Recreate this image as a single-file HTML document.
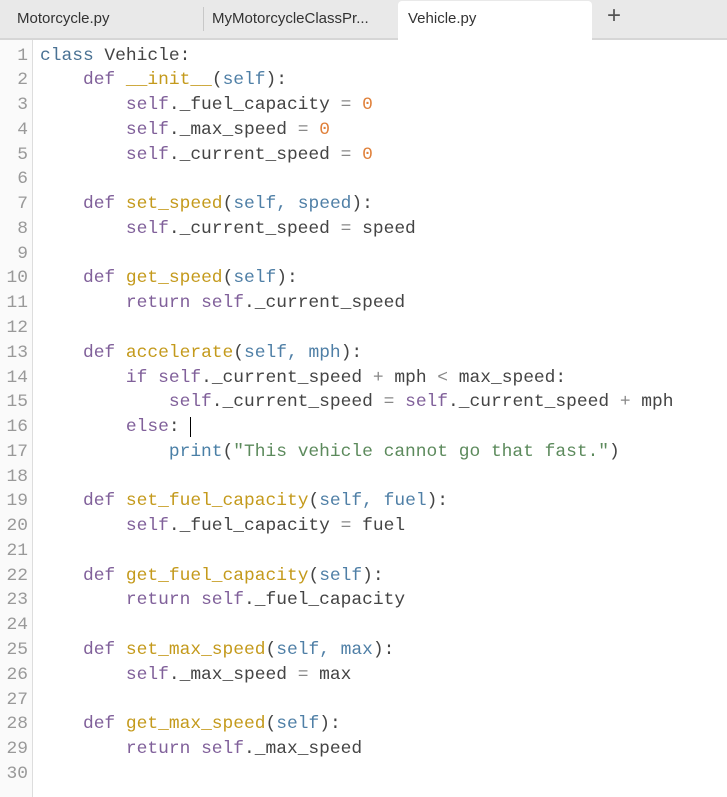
<!DOCTYPE html><html><head><style>
body{margin:0;width:727px;height:797px;background:#fff;overflow:hidden;font-family:"Liberation Sans",sans-serif}
.tabs{position:absolute;left:0;top:0;width:727px;height:38px;background:#e9e9e9;border-bottom:2px solid #d6d6d6}
.tab{position:absolute;top:10px;font-size:15px;color:#333}
.sep{position:absolute;top:7px;width:1px;height:24px;background:#c8c8c8}
.act{position:absolute;left:398px;top:1px;width:194px;height:39px;background:#fff;border-radius:4px 4px 0 0}
.gut{position:absolute;left:0;top:40px;width:32px;height:757px;border-right:1px solid #ddd;background:#fafafa}
pre{margin:0;position:absolute;top:43.6px;font-family:"Liberation Mono",monospace;font-size:17.9px;line-height:24.76px}
.nums{left:0;width:28px;text-align:right;color:#999}
.code{left:40px;color:#444}
.k{color:#4a7294}.d{color:#80609a}.f{color:#c49a1c}.s{color:#80609a}.p{color:#4f7fa6}.n{color:#e0803a}.st{color:#5c8a5c}.o{color:#888}.b{color:#4a7fa6}
</style></head><body>
<div class="tabs"><div class="act"></div>
<div class="tab" style="left:17px">Motorcycle.py</div><div class="sep" style="left:203px"></div>
<div class="tab" style="left:212px">MyMotorcycleClassPr...</div>
<div class="tab" style="left:408px">Vehicle.py</div>
<div class="tab" style="left:607px;top:2px;font-size:24px;color:#555">+</div></div>
<div class="gut"></div>
<pre class="nums">1
2
3
4
5
6
7
8
9
10
11
12
13
14
15
16
17
18
19
20
21
22
23
24
25
26
27
28
29
30</pre>
<pre class="code"><span class="k">class</span> Vehicle:
    <span class="d">def</span> <span class="f">__init__</span>(<span class="p">self</span>):
        <span class="s">self</span>._fuel_capacity <span class="o">=</span> <span class="n">0</span>
        <span class="s">self</span>._max_speed <span class="o">=</span> <span class="n">0</span>
        <span class="s">self</span>._current_speed <span class="o">=</span> <span class="n">0</span>

    <span class="d">def</span> <span class="f">set_speed</span>(<span class="p">self, speed</span>):
        <span class="s">self</span>._current_speed <span class="o">=</span> speed

    <span class="d">def</span> <span class="f">get_speed</span>(<span class="p">self</span>):
        <span class="d">return</span> <span class="s">self</span>._current_speed

    <span class="d">def</span> <span class="f">accelerate</span>(<span class="p">self, mph</span>):
        <span class="d">if</span> <span class="s">self</span>._current_speed <span class="o">+</span> mph <span class="o">&lt;</span> max_speed:
            <span class="s">self</span>._current_speed <span class="o">=</span> <span class="s">self</span>._current_speed <span class="o">+</span> mph
        <span class="d">else</span>: <span style="border-left:1.5px solid #000"> </span>
            <span class="b">print</span>(<span class="st">"This vehicle cannot go that fast."</span>)

    <span class="d">def</span> <span class="f">set_fuel_capacity</span>(<span class="p">self, fuel</span>):
        <span class="s">self</span>._fuel_capacity <span class="o">=</span> fuel

    <span class="d">def</span> <span class="f">get_fuel_capacity</span>(<span class="p">self</span>):
        <span class="d">return</span> <span class="s">self</span>._fuel_capacity

    <span class="d">def</span> <span class="f">set_max_speed</span>(<span class="p">self, max</span>):
        <span class="s">self</span>._max_speed <span class="o">=</span> max

    <span class="d">def</span> <span class="f">get_max_speed</span>(<span class="p">self</span>):
        <span class="d">return</span> <span class="s">self</span>._max_speed
</pre>
</body></html>
